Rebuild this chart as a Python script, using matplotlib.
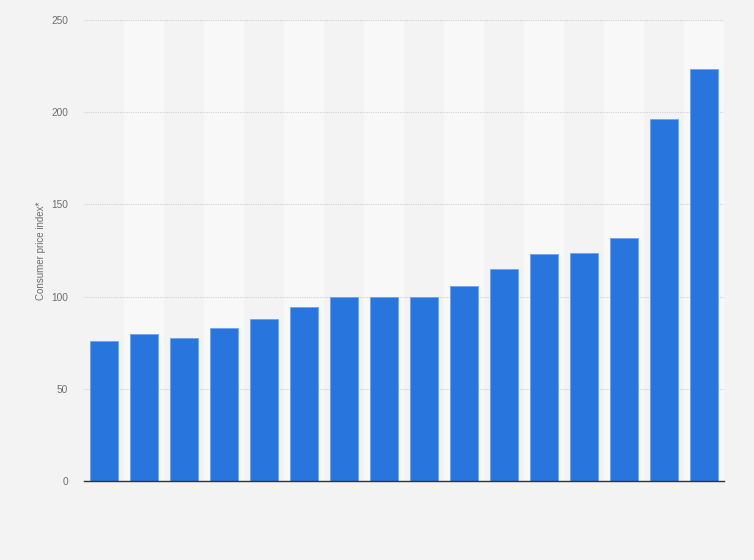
import numpy as np
import matplotlib
matplotlib.use('Agg')
from matplotlib import pyplot as plt

plt.rcParams['font.family'] = ['Liberation Sans', 'DejaVu Sans']

# consumer price index per period (no period labels shown in the source)
cpi_values = [76.0, 79.5, 77.6, 83.1, 87.9, 94.6, 100.0, 99.6, 99.7,
              106.0, 115.2, 123.3, 123.9, 132.0, 196.5, 223.6]
y_ticks = [0, 50, 100, 150, 200, 250]
y_label = 'Consumer price index*'

bg = '#f3f3f3'
band_light = '#f8f8f8'
bar_color = '#2876dd'

fig = plt.figure(figsize=(7.54, 5.6), dpi=100, facecolor=bg)
ax = fig.add_axes([84 / 754, 1 - 481 / 560, 640 / 754, 461 / 560])
ax.set_facecolor(bg)

x = np.arange(len(cpi_values))
# alternating column bands
for i in x:
    if i % 2 == 1:
        ax.axvspan(i - 0.5, i + 0.5, color=band_light, zorder=0, lw=0)

ax.bar(x, cpi_values, width=0.7, color=bar_color, edgecolor='#6ea3ea',
       linewidth=0.6, zorder=3)

ax.set_xlim(-0.5, len(cpi_values) - 0.5)
ax.set_ylim(0, 250)
ax.set_yticks(y_ticks)
ax.set_xticks([])
ax.yaxis.grid(True, color='#d2d2d2', linestyle=(0, (1, 1)), linewidth=0.8, zorder=1)
ax.set_axisbelow(True)

for s in ['top', 'right', 'left']:
    ax.spines[s].set_visible(False)
ax.spines['bottom'].set_color('#333333')
ax.spines['bottom'].set_linewidth(1.0)
ax.spines['bottom'].set_zorder(4)

ax.tick_params(axis='y', length=0, pad=11.5, labelsize=7.3, labelcolor='#6e6e6e')
ax.set_ylabel(y_label, fontsize=7, color='#6e6e6e', labelpad=3.5)

fig.savefig('out.png', dpi=100, facecolor=bg)
